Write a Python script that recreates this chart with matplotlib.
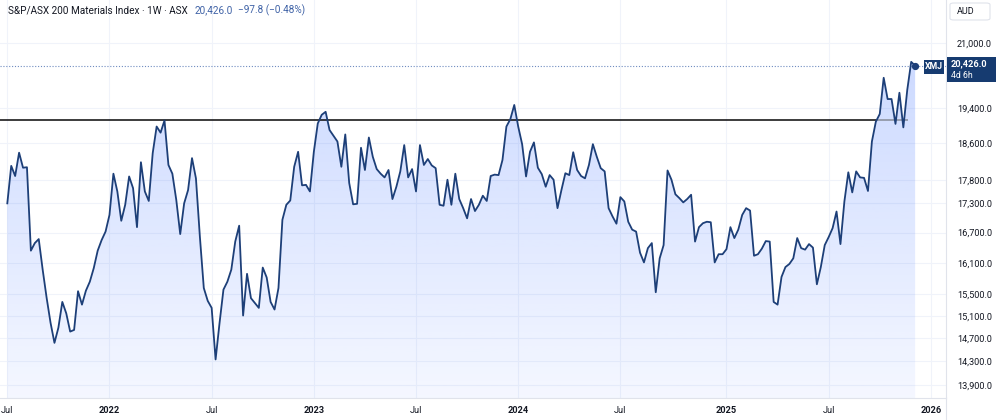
import numpy as np
import pandas as pd
import matplotlib
matplotlib.use("Agg")
import matplotlib.pyplot as plt
import matplotlib.dates as mdates
from matplotlib.ticker import FixedLocator, FuncFormatter, NullLocator
from matplotlib.patches import Rectangle, FancyBboxPatch

# ---------------- data ----------------
start_date = "2021-07-05"          # first weekly bar
values = [
    17300, 18100, 17880, 18390, 18060, 18070, 16340, 16490, 16570, 15970,
    15440, 14980, 14620, 14890, 15360, 15150, 14820, 14850, 15560, 15310,
    15570, 15740, 16000, 16340, 16550, 16720, 17060, 17930, 17550, 16940,
    17270, 17870, 17620, 16810, 18180, 17550, 17350, 18380, 18980, 18840,
    19120, 18120, 17930, 17370, 16670, 17300, 17580, 18270, 17830, 16620,
    15620, 15380, 15250, 14330, 14970, 15590, 15740, 15970, 16520, 16840,
    15110, 15890, 15430, 15340, 15250, 16010, 15820, 15360, 15220, 15620,
    16960, 17270, 17360, 18080, 18410, 17680, 17690, 17550, 18410, 19050,
    19250, 19320, 18900, 18770, 18640, 18080, 18800, 17730, 17280, 17290,
    18500, 18010, 18730, 18300, 18030, 17930, 17850, 18010, 17390, 17650,
    17980, 18560, 17850, 18030, 17550, 18560, 18120, 18250, 18110, 18050,
    17270, 17250, 17800, 17270, 17930, 17390, 17200, 16990, 17390, 17140,
    17270, 17460, 17350, 17880, 17910, 17900, 18230, 18980, 19150, 19480,
    18980, 18580, 17870, 18410, 18620, 18060, 17920, 17650, 17900, 17800,
    17200, 17580, 17940, 17900, 18400, 18010, 17880, 17830, 18120, 18580,
    18300, 18050, 17980, 17200, 17030, 16880, 17430, 17340, 16920, 16760,
    16720, 16300, 16110, 16390, 16490, 15540, 16190, 16450, 18000, 17800,
    17490, 17410, 17320, 17390, 17480, 16520, 16810, 16890, 16920, 16910,
    16110, 16270, 16270, 16370, 16810, 16590, 16760, 17060, 17200, 17150,
    16240, 16270, 16380, 16530, 16520, 15360, 15310, 15830, 16020, 16080,
    16190, 16590, 16390, 16360, 16470, 16400, 15690, 16020, 16450, 16610,
    16790, 17130, 16470, 17340, 17960, 17530, 17980, 17850, 17840, 17560,
    18640, 19090, 19270, 20130, 19620, 19620, 19040, 19770, 18960, 19840,
    20520, 20426,
]
dates = pd.date_range(start_date, periods=len(values), freq="7D")

last_price = 20426.0
change = -97.8
change_pct = -0.48
resistance_level = 19130
resistance_end = "2025-09-29"
resistance_ext_end = "2025-11-25"

title = "S&P/ASX 200 Materials Index · 1W · ASX"
symbol = "XMJ"
countdown = "4d 6h"
currency = "AUD"

price_ticks = [13900, 14300, 14700, 15100, 15500, 16100, 16700,
               17300, 17800, 18600, 19400, 21000]
time_ticks = ["2021-07-05", "2022-01-03", "2022-07-04", "2023-01-02",
              "2023-07-03", "2024-01-01", "2024-07-01", "2025-01-06",
              "2025-07-07", "2026-01-05"]
time_labels = ["Jul", "2022", "Jul", "2023", "Jul", "2024", "Jul",
               "2025", "Jul", "2026"]

# ---------------- style ----------------
plt.rcParams["font.family"] = ["Roboto", "DejaVu Sans"]
W, H = 1000, 420
line_color = "#1d3f78"
navy = "#163b70"
grid_color = "#f0f3fa"
border_color = "#e0e3eb"
text_color = "#131722"

fig = plt.figure(figsize=(W / 100, H / 100), dpi=100)
fig.patch.set_facecolor("white")
ax = fig.add_axes([0, 22 / H, 946 / W, 398 / H])
ax.set_facecolor("white")

x = mdates.date2num(dates)
t0 = mdates.date2num(pd.Timestamp(start_date))
px_per_week = 3.93
xlim = (t0 - 7.3 / px_per_week * 7, t0 + (946 - 7.3) / px_per_week * 7)
ylim = (13679, 22110)
ax.set_yscale("log")
ax.set_xlim(*xlim)
ax.set_ylim(*ylim)

# gradient area fill
grad = np.zeros((256, 1, 4))
grad[..., 0] = 41 / 255
grad[..., 1] = 98 / 255
grad[..., 2] = 1.0
grad[:, 0, 3] = np.linspace(0.27, 0.05, 256)
im = ax.imshow(grad, extent=[0, 1, 0, 1], transform=ax.transAxes,
               aspect="auto", origin="upper", zorder=1,
               interpolation="bilinear")
poly = ax.fill_between(x, values, 10000, facecolor="none",
                       edgecolor="none")
im.set_clip_path(poly.get_paths()[0], transform=ax.transData)
ax.set_xlim(*xlim)
ax.set_ylim(*ylim)

# resistance line
r_end = mdates.date2num(pd.Timestamp(resistance_end))
r_ext = mdates.date2num(pd.Timestamp(resistance_ext_end))
ax.plot([xlim[0], r_end], [resistance_level] * 2, color="#111111", lw=1.15,
        zorder=2.5, solid_capstyle="butt")
ax.plot([r_end, r_ext], [resistance_level] * 2, color="#8a8f9c", lw=1.15,
        zorder=2.5, solid_capstyle="butt")

# last price dotted line
ax.axhline(last_price, color="#6f8cc0", lw=0.8, ls=(0, (1, 1.6)), zorder=2)

# series line
ax.plot(x, values, color=line_color, lw=1.3, zorder=3,
        solid_joinstyle="round")
ax.plot(x[-1], values[-1], "o", ms=4.2, color=line_color, zorder=4)

# axes / ticks
ax.yaxis.set_major_locator(FixedLocator(price_ticks))
ax.yaxis.set_minor_locator(NullLocator())
ax.yaxis.set_major_formatter(FuncFormatter(lambda v, p: f"{v:,.1f}"))
ax.yaxis.tick_right()
ax.tick_params(axis="y", length=0, pad=8, labelsize=6.6,
               labelcolor=text_color)
ax.set_xticks(mdates.date2num(pd.to_datetime(time_ticks)))
ax.set_xticklabels(time_labels)
ax.xaxis.set_minor_locator(NullLocator())
ax.tick_params(axis="x", length=0, pad=5.5, labelsize=6.6,
               labelcolor=text_color)
for lab in ax.get_xticklabels():
    if lab.get_text() != "Jul":
        lab.set_fontweight("bold")
ax.grid(True, which="major", color=grid_color, lw=0.8, zorder=0)
ax.set_axisbelow(True)
for s in ["top", "left"]:
    ax.spines[s].set_visible(False)
for s in ["right", "bottom"]:
    ax.spines[s].set_color(border_color)
    ax.spines[s].set_linewidth(0.8)


def fx(px):
    return px / W


def fy(py):
    return 1 - py / H


# right column separator extended into the time-axis row
fig.add_artist(plt.Line2D([fx(946), fx(946)], [0, fy(398)],
                          color=border_color, lw=0.8))

# header (segments placed one after another)
renderer = fig.canvas.get_renderer()
hx = 8.0
segments = [(title, text_color, 7.0),
            (f"{last_price:,.1f}", "#3f62a6", 5.0),
            (f"\u2212{abs(change):.1f} (\u2212{abs(change_pct):.2f}%)",
             "#3f62a6", 0.0)]
for txt, col, gap in segments:
    t = fig.text(fx(hx), fy(10.5), txt, fontsize=7.2, color=col,
                 va="center", ha="left")
    bb = t.get_window_extent(renderer=renderer)
    hx += bb.width + gap

# currency box
fig.add_artist(FancyBboxPatch((fx(950), fy(20)), fx(40), 17 / H,
                              boxstyle="round,pad=0,rounding_size=0.004",
                              facecolor="white", edgecolor=border_color,
                              lw=0.8))
fig.text(fx(957), fy(11.5), currency, fontsize=6.5, color=text_color,
         va="center", ha="left")

# symbol label on the plot
fig.add_artist(Rectangle((fx(924), fy(73.5)), fx(20), 14 / H,
                         facecolor=navy, edgecolor="none"))
fig.text(fx(934), fy(66.5), symbol, fontsize=6.3, color="white",
         va="center", ha="center", fontweight="bold")

# price label on the axis
fig.add_artist(Rectangle((fx(946.5), fy(82)), fx(49), 25 / H,
                         facecolor=navy, edgecolor="none"))
fig.text(fx(951), fy(63.5), f"{last_price:,.1f}", fontsize=6.6,
         color="white", va="center", ha="left", fontweight="bold")
fig.text(fx(951), fy(75.5), countdown, fontsize=6.3, color="white",
         va="center", ha="left")

fig.savefig("out.png", dpi=100, facecolor="white")
